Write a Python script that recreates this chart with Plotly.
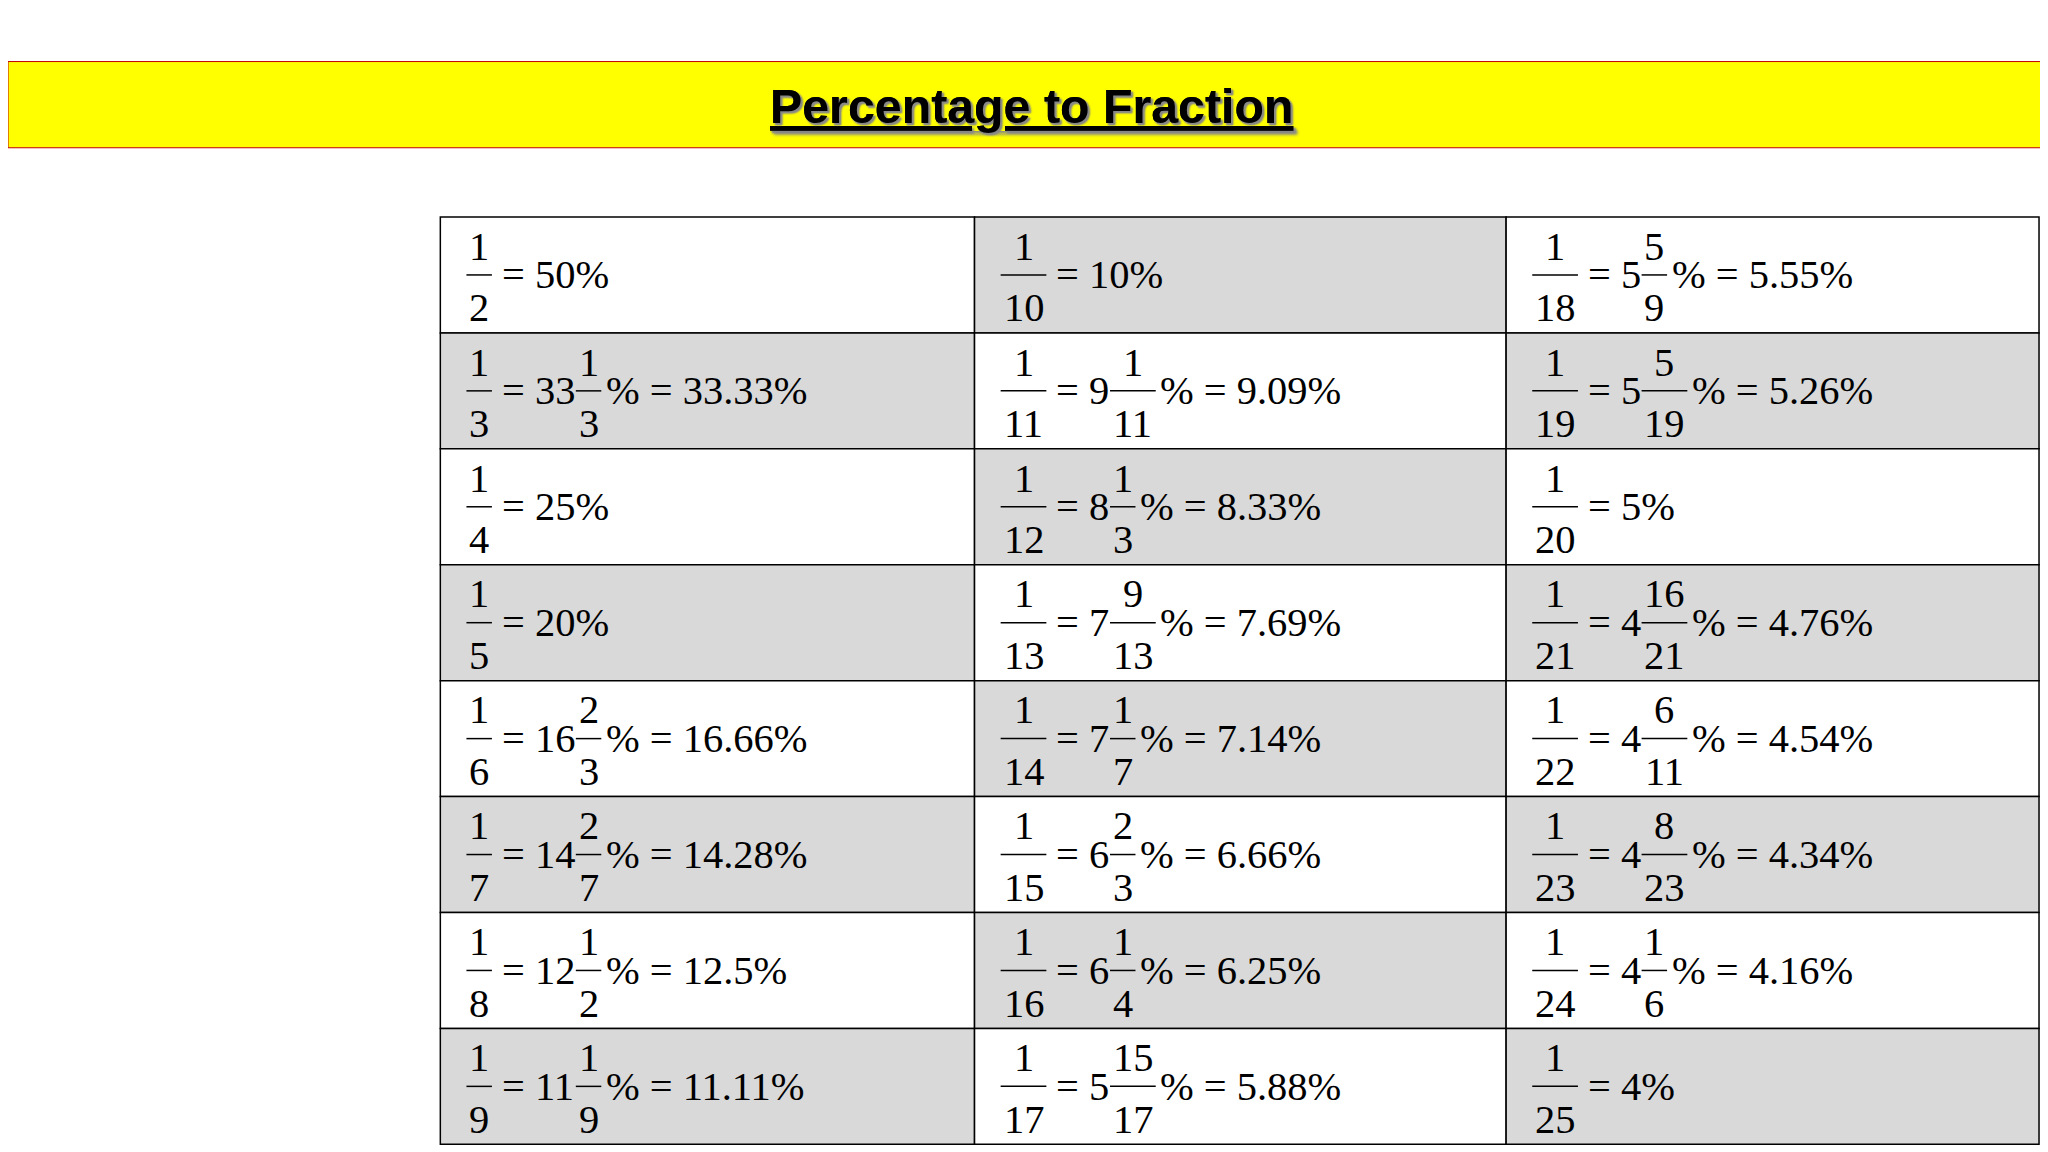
import plotly.graph_objects as go

# Datos de la tabla (columna por columna, 8 filas)
denominators = [2, 3, 4, 5, 6, 7, 8, 9,
                10, 11, 12, 13, 14, 15, 16, 17,
                18, 19, 20, 21, 22, 23, 24, 25]
whole_parts = ["50", "33", "25", "20", "16", "14", "12", "11",
               "10", "9", "8", "7", "7", "6", "6", "5",
               "5", "5", "5", "4", "4", "4", "4", "4"]
mixed_num = [None, "1", None, None, "2", "2", "1", "1",
             None, "1", "1", "9", "1", "2", "1", "15",
             "5", "5", None, "16", "6", "8", "1", None]
mixed_den = [None, "3", None, None, "3", "7", "2", "9",
             None, "11", "3", "13", "7", "3", "4", "17",
             "9", "19", None, "21", "11", "23", "6", None]
decimals = [None, "33.33", None, None, "16.66", "14.28", "12.5", "11.11",
            None, "9.09", "8.33", "7.69", "7.14", "6.66", "6.25", "5.88",
            "5.55", "5.26", None, "4.76", "4.54", "4.34", "4.16", None]
title = "Percentage to Fraction"

W, H = 1568, 882
S = 2048 / W
F = 31  # tamaño de letra en coordenadas de referencia
col_edges = [331, 740, 1147, 1555]
top, bottom = 160, 870
n_rows = 8
row_h = (bottom - top) / n_rows

widths = {".": 0.25, " ": 0.25, "=": 0.564, "%": 0.833}


def text_w(s):
    return sum(widths.get(c, 0.5) for c in s) * F


fig = go.Figure()
shapes = []
annotations = []
serif = dict(family="Liberation Serif", size=F * S, color="black")


def fraction(x, yc, num, den):
    bw = text_w(den) + 4
    shapes.append(dict(type="line", x0=x, x1=x + bw, y0=yc, y1=yc,
                       line=dict(color="black", width=1.5)))
    annotations.append(dict(x=x + bw / 2, y=yc - 22, text=num, showarrow=False,
                            xanchor="center", yanchor="middle", font=serif))
    annotations.append(dict(x=x + bw / 2, y=yc + 25, text=den, showarrow=False,
                            xanchor="center", yanchor="middle", font=serif))
    return x + bw


def label(x, yc, s):
    annotations.append(dict(x=x, y=yc, text=s.replace(" ", "&nbsp;"), showarrow=False,
                            xanchor="left", yanchor="middle", font=serif))
    return x + text_w(s)


# Celdas
for i, d in enumerate(denominators):
    c, r = divmod(i, n_rows)
    x0, x1 = col_edges[c], col_edges[c + 1]
    y0 = top + r * row_h
    fill = "#d9d9d9" if (r + c) % 2 == 1 else "white"
    shapes.append(dict(type="rect", x0=x0, x1=x1, y0=y0, y1=y0 + row_h,
                       fillcolor=fill, line=dict(color="black", width=1.5), layer="below"))
    yc = y0 + row_h / 2
    x = fraction(x0 + 20, yc, "1", str(d))
    if mixed_num[i] is None:
        label(x + 6, yc, "= " + whole_parts[i] + "%")
    else:
        x = label(x + 6, yc, "= " + whole_parts[i])
        x = fraction(x + 2, yc, mixed_num[i], mixed_den[i])
        label(x + 2, yc, "% = " + decimals[i] + "%")

# Barra del título
shapes.append(dict(type="rect", x0=0, x1=W, y0=41, y1=107, fillcolor="#ffff00",
                   line=dict(color="#c00000", width=1), layer="below"))
annotations.append(dict(x=784, y=75, text="<u><b>" + title + "</b></u>", showarrow=False,
                        xanchor="center", yanchor="middle",
                        font=dict(family="Liberation Sans Narrow, Liberation Sans", size=37 * S,
                                  color="black", shadow="2px 2px 2px #888")))

fig.update_layout(width=2048, height=1152, margin=dict(l=0, r=0, t=0, b=0),
                  plot_bgcolor="white", paper_bgcolor="white",
                  shapes=shapes, annotations=annotations, showlegend=False)
fig.update_xaxes(range=[0, W], visible=False, fixedrange=True)
fig.update_yaxes(range=[H, 0], visible=False, fixedrange=True)

fig.write_html("out.html")
